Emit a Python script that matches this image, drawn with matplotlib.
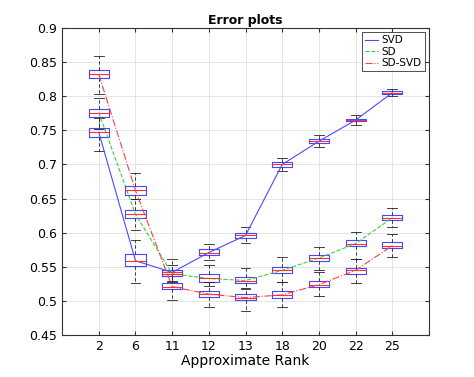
import matplotlib.pyplot as plt
import numpy as np

ranks = ['2', '6', '11', '12', '13', '18', '20', '22', '25']

# per series: median, q1, q3, whisker low, whisker high
svd_med = [0.747, 0.559, 0.542, 0.571, 0.596, 0.700, 0.734, 0.765, 0.805]
svd_q1 = [0.740, 0.552, 0.537, 0.567, 0.592, 0.697, 0.731, 0.763, 0.803]
svd_q3 = [0.753, 0.569, 0.546, 0.576, 0.600, 0.703, 0.737, 0.767, 0.807]
svd_lo = [0.720, 0.526, 0.530, 0.560, 0.585, 0.691, 0.726, 0.758, 0.800]
svd_hi = [0.768, 0.590, 0.553, 0.583, 0.609, 0.709, 0.743, 0.772, 0.811]

sd_med = [0.776, 0.627, 0.540, 0.533, 0.530, 0.545, 0.563, 0.584, 0.622]
sd_q1 = [0.769, 0.621, 0.536, 0.528, 0.526, 0.541, 0.559, 0.580, 0.618]
sd_q3 = [0.781, 0.633, 0.545, 0.539, 0.535, 0.550, 0.568, 0.589, 0.626]
sd_lo = [0.752, 0.604, 0.528, 0.522, 0.519, 0.528, 0.545, 0.562, 0.608]
sd_hi = [0.798, 0.650, 0.561, 0.553, 0.548, 0.564, 0.579, 0.601, 0.636]

sdsvd_med = [0.832, 0.662, 0.521, 0.510, 0.505, 0.509, 0.524, 0.545, 0.581]
sdsvd_q1 = [0.826, 0.655, 0.517, 0.506, 0.501, 0.505, 0.520, 0.540, 0.577]
sdsvd_q3 = [0.839, 0.669, 0.527, 0.515, 0.510, 0.514, 0.529, 0.549, 0.586]
sdsvd_lo = [0.803, 0.650, 0.501, 0.491, 0.486, 0.491, 0.507, 0.527, 0.564]
sdsvd_hi = [0.859, 0.688, 0.540, 0.528, 0.518, 0.528, 0.543, 0.562, 0.598]

series = [
    ('SVD', svd_med, svd_q1, svd_q3, svd_lo, svd_hi, '#4a4aff', '-'),
    ('SD', sd_med, sd_q1, sd_q3, sd_lo, sd_hi, '#44cc44', '--'),
    ('SD-SVD', sdsvd_med, sdsvd_q1, sdsvd_q3, sdsvd_lo, sdsvd_hi, '#ff4040', '-.'),
]

fig = plt.figure(figsize=(4.74, 3.77), dpi=100)
ax = fig.add_axes([0.131, 0.111, 0.774, 0.815])
pos = np.arange(1, len(ranks) + 1)

for name, med, q1, q3, lo, hi, col, ls in series:
    stats = [dict(med=med[i], q1=q1[i], q3=q3[i], whislo=lo[i], whishi=hi[i], fliers=[])
             for i in range(len(ranks))]
    ax.bxp(stats, positions=pos, widths=0.55, showfliers=False,
           boxprops=dict(color='#4848ff', linewidth=0.8),
           medianprops=dict(color='#ff3030', linewidth=0.8),
           whiskerprops=dict(color='#222222', linestyle=(0, (4, 3)), linewidth=0.6),
           capprops=dict(color='#222222', linewidth=0.6),
           capwidths=0.27)
    ax.plot(pos, med, color=col, linestyle=ls, linewidth=0.8, label=name)

ax.set_xlim(0, 10)
ax.set_ylim(0.45, 0.9)
ax.set_xticks(pos)
ax.set_xticklabels(ranks)
ax.set_yticks(np.arange(0.45, 0.901, 0.05))
ax.set_yticklabels(['0.45', '0.5', '0.55', '0.6', '0.65', '0.7', '0.75', '0.8', '0.85', '0.9'])
ax.tick_params(direction='in', top=True, right=True, labelsize=9, length=3, color='#333333')
ax.grid(True, color='#e0e0e0', linewidth=0.6)
ax.set_axisbelow(True)
for s in ax.spines.values():
    s.set_color('#333333')
    s.set_linewidth(0.8)

ax.set_title('Error plots', fontsize=9, fontweight='bold', pad=3)
ax.set_xlabel('Approximate Rank', fontsize=10, labelpad=1)
leg = ax.legend(loc='upper right', fontsize=7.5, fancybox=False, framealpha=1,
                edgecolor='#333333', borderpad=0.3, labelspacing=0.15, handlelength=1.3,
                handletextpad=0.3, borderaxespad=0.4)
leg.get_frame().set_linewidth(0.6)

fig.savefig('out.png', dpi=100)
